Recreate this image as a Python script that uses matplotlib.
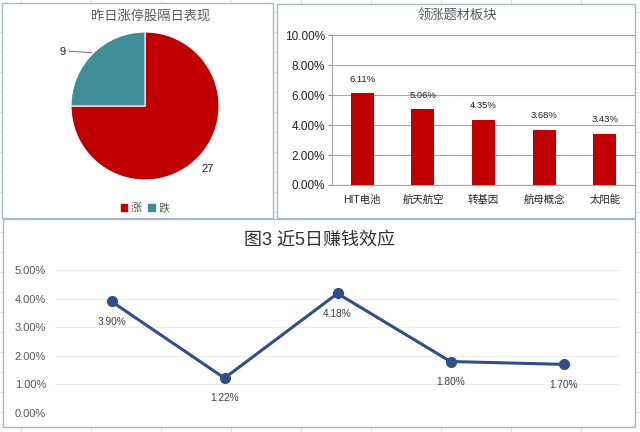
import matplotlib
matplotlib.use("Agg")
import matplotlib.pyplot as plt
from matplotlib.patches import Rectangle
from matplotlib.ticker import FuncFormatter, MultipleLocator

plt.rcParams['font.family'] = ['Liberation Sans', 'Noto Sans CJK SC', 'DejaVu Sans']

# --- Data ---
pie_labels = ["涨", "跌"]
pie_values = [27, 9]

bar_categories = ["HIT电池", "航天航空", "转基因", "航母概念", "太阳能"]
bar_values = [0.0611, 0.0506, 0.0435, 0.0368, 0.0343]

line_days = ["D1", "D2", "D3", "D4", "D5"]
line_values = [0.0390, 0.0122, 0.0418, 0.0180, 0.0170]

RED = "#C00000"
TEAL = "#3F8E97"
NAVY = "#2F4E8C"
GRAY_TXT = "#595959"
BORDER = "#A9B8C8"

W, H = 640, 432
fig = plt.figure(figsize=(6.4, 4.32), dpi=100)
fig.patch.set_facecolor("white")


def px_axes(x0, y0, x1, y1, **kw):
    # pixel box (top-left origin) -> figure axes
    ax = fig.add_axes([x0 / W, 1 - y1 / H, (x1 - x0) / W, (y1 - y0) / H], **kw)
    ax.patch.set_alpha(0)
    return ax


def pct(v, _pos=None):
    return f"{v * 100:.2f}%"


# faint spreadsheet grid behind the panels
for gx in range(21, W, 70):
    fig.add_artist(plt.Line2D([gx / W, gx / W], [0, 1], color="#E3E3E3", lw=0.8, zorder=-3))
for gy in range(12, H, 20):
    fig.add_artist(plt.Line2D([0, 1], [1 - gy / H, 1 - gy / H], color="#E3E3E3", lw=0.8, zorder=-3))

# panel backgrounds / borders
for (x0, y0, x1, y1) in [(2, 3, 273, 218), (277, 4, 635, 218), (3, 219, 635, 427)]:
    fig.add_artist(Rectangle((x0 / W, 1 - y1 / H), (x1 - x0) / W, (y1 - y0) / H,
                             transform=fig.transFigure, facecolor="white",
                             edgecolor=BORDER, lw=1.0, zorder=-2))

# --- Pie ---
ax1 = px_axes(71, 32, 219, 180)
ax1.pie(pie_values, colors=[RED, TEAL], startangle=90, counterclock=False,
        radius=1, wedgeprops=dict(edgecolor="white", linewidth=0.8))
ax1.set_xlim(-1, 1)
ax1.set_ylim(-1, 1)
ax1.set_aspect("equal")
ax1.axis("off")
ax1.plot([-1.02, -0.72], [0.74, 0.72], color="#808080", lw=0.8, clip_on=False)
ax1.text(-1.12, 0.73, str(pie_values[1]), ha="center", va="center", fontsize=8, color="#222222")
ax1.text(0.84, -0.85, str(pie_values[0]), ha="center", va="center", fontsize=8, color="#222222")
fig.text(151 / W, 1 - 16 / H, "昨日涨停股隔日表现", ha="center", va="center",
         fontsize=9.5, color=GRAY_TXT)
handles = [Rectangle((0, 0), 1, 1, color=c) for c in (RED, TEAL)]
fig.legend(handles, pie_labels, loc="center", bbox_to_anchor=(145 / W, 1 - 208 / H),
           ncol=2, frameon=False, fontsize=8, handlelength=0.6, handleheight=0.6,
           handletextpad=0.3, columnspacing=0.6, labelcolor=GRAY_TXT)

# --- Bar ---
ax2 = px_axes(332, 35, 635, 185)
xs = range(len(bar_categories))
ax2.bar(xs, bar_values, width=0.38, color=RED, zorder=3)
for x, v in zip(xs, bar_values):
    ax2.annotate(pct(v), (x, v), xytext=(0, 10), textcoords="offset points",
                 ha="center", va="center", fontsize=6.8, color="#222222")
ax2.set_xlim(-0.5, len(bar_categories) - 0.5)
ax2.set_ylim(0, 0.10)
ax2.yaxis.set_major_locator(MultipleLocator(0.02))
ax2.yaxis.set_major_formatter(FuncFormatter(pct))
ax2.set_xticks(list(xs))
ax2.set_xticklabels(bar_categories, fontsize=7.5, color="#222222")
ax2.tick_params(axis="x", length=0, pad=7)
ax2.tick_params(axis="y", labelsize=8.5, colors="#888888", labelcolor="#222222", length=3, width=0.8, pad=2)
ax2.grid(axis="y", color="#A6A6A6", lw=0.8, zorder=0)
for s in ("top", "right"):
    ax2.spines[s].set_visible(False)
for s in ("left", "bottom"):
    ax2.spines[s].set_color("#A6A6A6")
    ax2.spines[s].set_linewidth(0.8)
fig.text(457 / W, 1 - 16 / H, "领涨题材板块", ha="center", va="center",
         fontsize=9.5, color=GRAY_TXT)

# --- Line ---
ax3 = px_axes(55, 270, 620, 413)
lx = range(len(line_days))
ax3.plot(lx, line_values, color=NAVY, lw=2.2, marker="o", markersize=7,
         markerfacecolor=NAVY, markeredgecolor=NAVY, clip_on=False, zorder=3)
for x, v in zip(lx, line_values):
    ax3.annotate(pct(v), (x, v), xytext=(0, -14.5), textcoords="offset points",
                 ha="center", va="center", fontsize=7.3, color="#404040")
ax3.set_xlim(-0.5, len(line_days) - 0.5)
ax3.set_ylim(0, 0.05)
ax3.yaxis.set_major_locator(MultipleLocator(0.01))
ax3.yaxis.set_major_formatter(FuncFormatter(pct))
ax3.set_xticks([])
ax3.tick_params(axis="y", length=0, labelsize=8, labelcolor=GRAY_TXT, pad=6.5)
ax3.grid(axis="y", color="#EDEDED", lw=0.8, zorder=0)
for s in ax3.spines.values():
    s.set_visible(False)
fig.text(320 / W, 1 - 240 / H, "图3 近5日赚钱效应", ha="center", va="center",
         fontsize=13, color="#303030")

fig.savefig("out.png", dpi=100, facecolor="white")
